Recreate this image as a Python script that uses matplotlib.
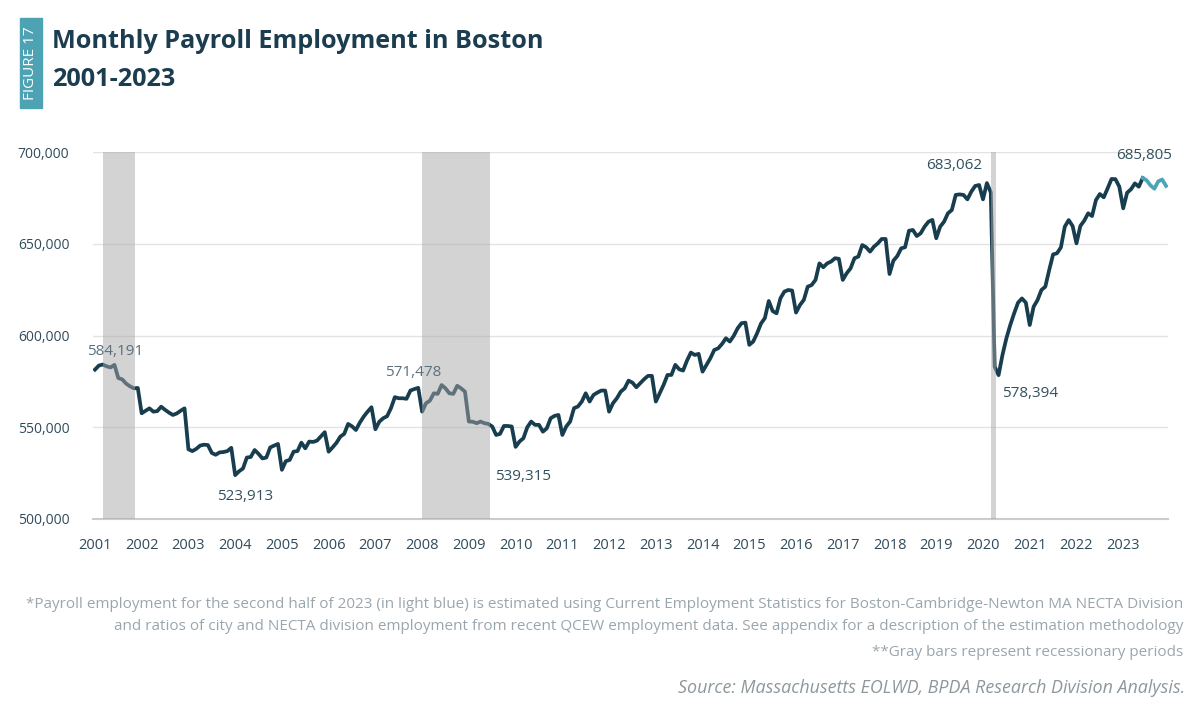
import numpy as np
import matplotlib.pyplot as plt
from matplotlib.patches import Rectangle
from matplotlib.ticker import FuncFormatter

plt.rcParams['font.family'] = ['Open Sans', 'DejaVu Sans']

# monthly payroll employment in Boston, thousands (Jan..Dec per year)
emp_by_year = {
    2001: [581.4, 583.6, 584.191, 583.2, 582.6, 584.0, 576.8, 576.1, 573.8, 572.3, 571.2, 571.4],
    2002: [557.6, 559.0, 560.3, 558.5, 558.8, 561.2, 559.5, 558.0, 556.7, 557.5, 559.0, 560.3],
    2003: [538.0, 537.0, 538.2, 540.0, 540.5, 540.3, 536.0, 535.0, 536.3, 536.5, 537.0, 538.8],
    2004: [523.913, 526.0, 527.5, 533.5, 533.8, 537.6, 535.5, 533.0, 533.5, 539.0, 540.0, 540.9],
    2005: [526.8, 531.5, 532.2, 536.7, 537.0, 541.6, 538.5, 542.2, 542.0, 542.7, 545.0, 547.3],
    2006: [536.7, 539.0, 541.5, 544.9, 546.4, 551.8, 550.5, 548.5, 552.5, 555.8, 558.5, 560.9],
    2007: [548.9, 553.0, 554.9, 556.0, 560.4, 566.4, 565.8, 565.8, 565.5, 570.0, 570.8, 571.478],
    2008: [558.5, 563.1, 564.5, 568.5, 568.2, 573.0, 571.2, 568.5, 568.2, 572.6, 571.2, 569.4],
    2009: [553.1, 553.0, 552.2, 553.1, 552.2, 551.8, 550.4, 545.8, 546.4, 550.7, 550.7, 550.4],
    2010: [539.315, 542.2, 544.0, 550.0, 553.1, 551.3, 551.3, 547.6, 549.4, 554.9, 556.2, 556.7],
    2011: [545.8, 550.4, 553.1, 560.4, 561.3, 564.0, 568.5, 564.0, 567.6, 568.9, 570.0, 570.0],
    2012: [558.5, 563.1, 565.8, 569.4, 571.2, 575.4, 574.3, 571.8, 574.0, 576.2, 578.0, 578.0],
    2013: [564.0, 568.5, 573.1, 578.5, 578.5, 584.0, 581.6, 580.9, 586.3, 590.7, 589.4, 590.0],
    2014: [580.3, 584.0, 587.6, 592.1, 593.0, 595.4, 598.5, 596.7, 599.8, 603.9, 606.7, 607.0],
    2015: [594.9, 596.7, 601.2, 606.5, 609.5, 618.8, 613.3, 612.1, 620.3, 623.9, 624.8, 624.5],
    2016: [612.5, 616.6, 619.4, 626.6, 627.5, 630.3, 639.3, 637.2, 639.3, 640.3, 642.1, 641.8],
    2017: [630.3, 633.9, 636.6, 642.1, 643.0, 649.3, 648.1, 645.7, 648.4, 650.2, 652.6, 652.6],
    2018: [633.5, 640.8, 643.3, 647.5, 648.1, 657.1, 657.5, 654.2, 655.7, 659.3, 662.0, 663.0],
    2019: [653.0, 659.3, 662.0, 666.6, 668.4, 676.6, 676.9, 676.6, 674.2, 678.4, 681.5, 682.0],
    2020: [674.2, 683.062, 678.0, 583.0, 578.394, 589.4, 598.4, 605.7, 612.1, 617.9, 620.2, 617.9],
    2021: [605.7, 615.7, 619.3, 624.8, 626.6, 635.7, 644.2, 644.8, 648.0, 659.3, 662.9, 659.7],
    2022: [650.2, 659.7, 662.6, 666.6, 665.1, 673.8, 677.1, 675.3, 680.2, 685.3, 685.2, 681.1],
    2023: [669.3, 677.8, 679.7, 682.9, 681.1, 685.805, 684.6, 681.8, 680.0, 684.0, 685.0, 681.5],
}
years = list(emp_by_year.keys())
employment = np.array([v for y in years for v in emp_by_year[y]]) * 1000
estimate_start = (2023, 6)   # light blue from here on

# recession periods (start, end) as (year, month)
recessions = [((2001, 3), (2001, 11)), ((2008, 1), (2009, 6)), ((2020, 3), (2020, 4))]

# labelled points (year, month), offset in pixels
labels = [((2001, 3), (12, 13)), ((2004, 1), (10, -21)), ((2007, 12), (-5, 15)),
          ((2010, 1), (7, -30)), ((2020, 2), (-33, 18)), ((2020, 5), (32, -18)),
          ((2023, 6), (1, 23))]


def idx(ym):
    return (ym[0] - years[0]) * 12 + ym[1] - 1


dark = '#173d4e'
teal = '#4aa6b6'
x = np.arange(len(employment))
cut = idx(estimate_start)

fig = plt.figure(figsize=(12, 7.12), dpi=100)
ax = fig.add_axes([93 / 1200, 1 - 519 / 712, 1075 / 1200, 367 / 712])

ax.plot(x[:cut + 1], employment[:cut + 1], color=dark, lw=2.7, solid_joinstyle='round', zorder=3)
ax.plot(x[cut:], employment[cut:], color=teal, lw=2.7, solid_joinstyle='round', zorder=3)

for s, e in recessions:
    ax.axvspan(idx(s), idx(e) + 0.3, color='#a8a8a8', alpha=0.5, lw=0, zorder=4)

for ym, off in labels:
    i = idx(ym)
    col = '#5a717d' if ym in [(2001, 3), (2007, 12)] else '#34505e'
    ax.annotate(f'{employment[i]:,.0f}', xy=(i, employment[i]), xytext=off,
                textcoords='offset pixels', ha='center', va='center',
                fontsize=11, color=col, zorder=5)

ax.set_xlim(-0.5, len(employment) - 0.5)
ax.set_ylim(500000, 700000)
ax.set_yticks(np.arange(500000, 700001, 50000))
ax.yaxis.set_major_formatter(FuncFormatter(lambda v, p: f'{v:,.0f}'))
ax.set_xticks([idx((y, 1)) for y in years])
ax.set_xticklabels([str(y) for y in years])
ax.tick_params(axis='y', length=0, pad=17, labelsize=10, labelcolor='#2f4b5a')
ax.tick_params(axis='x', length=0, pad=14, labelsize=10.5, labelcolor='#2f4b5a')
ax.grid(axis='y', color='#e3e3e3', lw=1)
ax.set_axisbelow(True)
for side in ['top', 'right', 'left']:
    ax.spines[side].set_visible(False)
ax.spines['bottom'].set_color('#cccccc')
ax.spines['bottom'].set_linewidth(1.5)

# header
fig.patches.append(Rectangle((20 / 1200, 1 - 108 / 712), 22 / 1200, 90 / 712,
                             transform=fig.transFigure, color='#4da3b4', zorder=0))
fig.text(31 / 1200, 1 - 63 / 712, 'FIGURE 17', rotation=90, ha='center', va='center',
         color='white', fontsize=11)
fig.text(52 / 1200, 1 - 42 / 712, 'Monthly Payroll Employment in Boston', ha='left',
         va='center', fontsize=18.2, fontweight='bold', color='#1b3d4f')
fig.text(52 / 1200, 1 - 80 / 712, '2001-2023', ha='left', va='center', fontsize=18.2,
         fontweight='bold', color='#1b3d4f')

# footnotes
notes = ['*Payroll employment for the second half of 2023 (in light blue) is estimated using '
         'Current Employment Statistics for Boston-Cambridge-Newton MA NECTA Division',
         'and ratios of city and NECTA division employment from recent QCEW employment data. '
         'See appendix for a description of the estimation methodology',
         '**Gray bars represent recessionary periods']
for t, yp in zip(notes, [604, 627, 652]):
    fig.text(1183 / 1200, 1 - yp / 712, t, ha='right', va='center', fontsize=11,
             color='#9aa6ae')
fig.text(1185 / 1200, 1 - 688 / 712, 'Source: Massachusetts EOLWD, BPDA Research Division Analysis.',
         ha='right', va='center', fontsize=12.9, style='italic', color='#8e979c')

fig.savefig('out.png', dpi=100)
